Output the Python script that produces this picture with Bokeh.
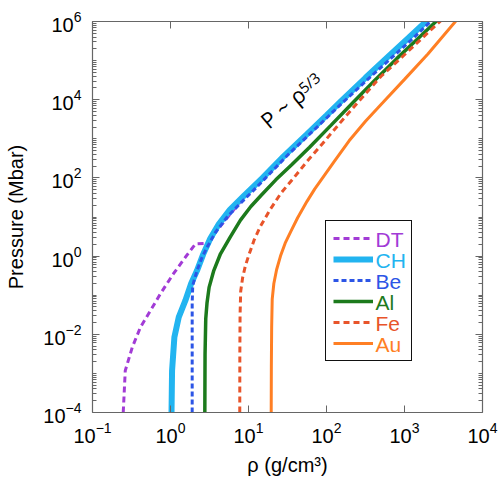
import numpy as np
from bokeh.plotting import figure
from bokeh.models import LogAxis, FixedTicker, Legend, LegendItem, Label, CustomJSTickFormatter
from bokeh.embed import file_html
from bokeh.resources import INLINE

# Courbes : log10(rho en g/cm3) et log10(P en Mbar)
dt_log_rho = [-0.606, -0.58, -0.49, -0.385, -0.256, -0.128, 0.038, 0.19, 0.32, 0.47, 0.577, 0.727,
              0.9, 1.18, 1.75, 2.19, 2.8, 3.32]
dt_log_p = [-4.0, -2.93, -2.33, -1.82, -1.39, -0.96, -0.45, -0.03, 0.31, 0.33, 0.61, 0.98,
            1.4, 2.0, 3.12, 3.97, 5.12, 6.08]

ch_log_rho = [0.013, 0.02, 0.05, 0.106, 0.19, 0.265, 0.34, 0.42, 0.51, 0.62, 0.76, 0.95,
              1.18, 1.45, 1.75, 2.0, 2.19, 2.5, 2.8, 3.05, 3.32]
ch_log_p = [-4.0, -2.93, -2.07, -1.56, -1.14, -0.70, -0.37, 0.05, 0.45, 0.82, 1.18, 1.56,
            2.0, 2.55, 3.12, 3.6, 3.97, 4.56, 5.12, 5.58, 6.08]

be_log_rho = [0.278, 0.278, 0.285, 0.34, 0.405, 0.47, 0.577, 0.727, 0.897, 1.064, 1.22,
              1.5, 1.8, 2.22, 2.55, 2.85, 3.1, 3.36]
be_log_p = [-4.0, -1.2, -0.75, -0.37, -0.03, 0.23, 0.61, 1.0, 1.35, 1.68, 2.0,
            2.58, 3.15, 3.95, 4.56, 5.1, 5.55, 6.05]

al_log_rho = [0.44, 0.443, 0.452, 0.468, 0.495, 0.555, 0.641, 0.769, 0.897, 1.03, 1.16, 1.35,
              1.56, 1.78, 2.05, 2.34, 2.62, 2.9, 3.15, 3.42]
al_log_p = [-4.0, -2.5, -1.6, -1.2, -0.8, -0.37, 0.06, 0.5, 0.92, 1.27, 1.55, 1.95,
            2.35, 2.78, 3.33, 3.93, 4.5, 5.05, 5.52, 6.03]

fe_log_rho = [0.888, 0.889, 0.892, 0.90, 0.925, 0.96, 1.0, 1.07, 1.15, 1.28, 1.42, 1.58,
              1.75, 1.95, 2.18, 2.41, 2.7, 3.0, 3.25, 3.47]
fe_log_p = [-4.0, -2.5, -1.5, -0.9, -0.55, -0.25, 0.0, 0.4, 0.75, 1.2, 1.62, 2.0,
            2.42, 2.88, 3.42, 3.95, 4.6, 5.15, 5.62, 6.03]

au_log_rho = [1.291, 1.293, 1.297, 1.304, 1.325, 1.36, 1.41, 1.47, 1.54, 1.63, 1.75, 1.85,
              1.95, 2.1, 2.29, 2.5, 2.72, 3.0, 3.3, 3.67]
au_log_p = [-4.0, -2.8, -1.8, -1.1, -0.7, -0.35, 0.0, 0.33, 0.62, 0.98, 1.4, 1.72,
            2.0, 2.42, 2.95, 3.45, 3.92, 4.52, 5.17, 6.04]

names = ["DT", "CH", "Be", "Al", "Fe", "Au"]
colors = ["#a23bd6", "#22b4f0", "#2c55e6", "#1c7a1c", "#e8542a", "#ff7f24"]
widths = [3, 6, 3, 3.5, 3, 3]
dashes = ["6 4", "solid", "5 3", "solid", "6 4", "solid"]
series = [(dt_log_rho, dt_log_p), (ch_log_rho, ch_log_p), (be_log_rho, be_log_p),
          (al_log_rho, al_log_p), (fe_log_rho, fe_log_p), (au_log_rho, au_log_p)]

x_ticks = [0.1, 1, 10, 100, 1000, 10000]
y_ticks = [1e-4, 1e-2, 1, 1e2, 1e4, 1e6]
y_minor = [m * 10.0 ** k for k in range(-4, 6) for m in range(1, 10) if not (m == 1 and k % 2 == 0)]

FONT = "Liberation Sans"
AXIS_COL = "#666666"

p = figure(width=500, height=481, x_axis_type="log", y_axis_type="log",
           x_range=(0.1, 1e4), y_range=(1e-4, 1e6),
           output_backend="svg", toolbar_location=None,
           min_border_left=92, min_border_right=18, min_border_top=21, min_border_bottom=69)
p.grid.visible = False
p.outline_line_color = None

x_ticker = FixedTicker(ticks=x_ticks, minor_ticks=[])
y_ticker = FixedTicker(ticks=y_ticks, minor_ticks=y_minor)


def style_axis(ax, show_labels):
    ax.axis_line_color = AXIS_COL
    ax.axis_line_width = 1.2
    ax.major_tick_line_color = AXIS_COL
    ax.minor_tick_line_color = AXIS_COL
    ax.major_tick_in = 7
    ax.major_tick_out = 0
    ax.minor_tick_in = 4
    ax.minor_tick_out = 0
    if show_labels:
        ax.major_label_text_font = FONT
        ax.major_label_text_font_size = "20px"
        ax.major_label_text_color = "black"
        ax.axis_label_text_font = FONT
        ax.axis_label_text_font_size = "20px"
        ax.axis_label_text_font_style = "normal"
        ax.axis_label_text_color = "black"
    else:
        ax.formatter = CustomJSTickFormatter(code="return ''")
        ax.major_label_text_font_size = "1px"
        ax.major_label_standoff = 0


p.xaxis.ticker = x_ticker
p.yaxis.ticker = y_ticker
style_axis(p.xaxis[0], True)
style_axis(p.yaxis[0], True)
p.xaxis.axis_label = "ρ (g/cm³)"
p.yaxis.axis_label = "Pressure (Mbar)"
p.xaxis.major_label_standoff = 9
p.xaxis.axis_label_standoff = 8
p.yaxis.major_label_standoff = 11
p.yaxis.axis_label_standoff = 13

top = LogAxis(ticker=x_ticker)
style_axis(top, False)
p.add_layout(top, "above")
right = LogAxis(ticker=y_ticker)
style_axis(right, False)
p.add_layout(right, "right")

items = []
for (lr, lp), name, c, w, d in zip(series, names, colors, widths, dashes):
    r = p.line(10 ** np.array(lr), 10 ** np.array(lp), line_color=c, line_width=w, line_dash=d)
    items.append(LegendItem(label=" ", renderers=[r]))

# légende : cadre et traits, les textes colorés sont posés à part
leg_x, leg_y = 233, 51
pad, row_h, gap, glyph_w, stand = 7, 20, 1, 40, 3
legend = Legend(items=items, location=(leg_x, leg_y), padding=pad, spacing=gap,
                glyph_height=row_h, label_height=row_h, glyph_width=glyph_w,
                label_standoff=stand, label_width=28, margin=0,
                border_line_color="#111111", border_line_width=1.5, border_line_alpha=1.0,
                background_fill_alpha=0.0, label_text_font_size="13px")
p.add_layout(legend, "center")

leg_h = 2 * pad + len(names) * row_h + (len(names) - 1) * gap
for i, (name, c) in enumerate(zip(names, colors)):
    p.add_layout(Label(x=leg_x + pad + glyph_w + stand, y=leg_y + leg_h - pad - row_h / 2 - i * (row_h + gap),
                       x_units="screen", y_units="screen", text=name, text_color=c,
                       text_font=FONT, text_font_size="21px", text_baseline="middle"))

# annotation P ~ rho^(5/3)
p.add_layout(Label(x=20.5, y=1290, text="P ~ ρ", angle=0.70, text_font="Open Sans",
                   text_font_size="22px", text_color="black"))
p.add_layout(Label(x=56.0, y=1.15e4, text="5/3", angle=0.70, text_font="Open Sans",
                   text_font_size="15px", text_color="black"))

open("out.html", "w").write(file_html(p, INLINE))
